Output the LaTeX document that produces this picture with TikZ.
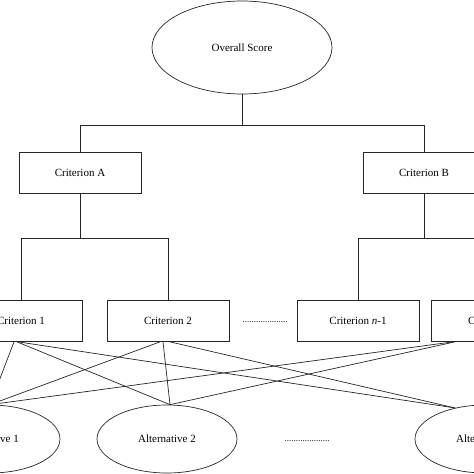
\documentclass[tikz,border=0pt]{standalone}
\usepackage{fontspec}
\setmainfont{Liberation Serif}
\usetikzlibrary{shapes.geometric}
\tikzset{
	crit/.style={draw, rectangle, minimum width=122pt, minimum height=41pt, inner sep=0pt},
	alt/.style={draw, ellipse, minimum width=140pt, minimum height=68pt, inner sep=0pt},
	link/.style={black!85, line width=0.7pt}
}
\begin{document}
\begin{tikzpicture}[x=1pt, y=-1pt, font=\fontsize{11}{13}\selectfont, line width=0.7pt, draw=black!85]
	\useasboundingbox (0,0) rectangle (474,474);
	\node[draw, ellipse, minimum width=180pt, minimum height=93pt, inner sep=0pt] (score) at (242,47.5) {Overall Score}; %top
	\node[crit] (critA) at (80,172.5) {Criterion A};
	\node[crit] (critB) at (424,172.5) {Criterion B};
	\node[crit] (crit1) at (21,321) {Criterion 1};
	\node[crit] (crit2) at (168,321) {Criterion 2};
	\node[crit] (critn1) at (358,321) {Criterion \textit{n}-1};
	\node[crit] (critn) at (492,321) {Criterion \textit{n}};
	\node (dotsC) at (265,322) {\fontsize{9}{9}\selectfont ....................};
	\node[alt] (alt1) at (-10,439) {Alternative 1};
	\node[alt] (alt2) at (167,439) {Alternative 2};
	\node[alt] (altn) at (485,439) {Alternative \textit{n}};
	\node (dotsA) at (307,441) {\fontsize{9}{9}\selectfont ....................};
	% tree
	\coordinate (split0) at (242,125);
	\coordinate (splitA) at (80,238);
	\coordinate (splitB) at (424,238);
	\draw (score) -- (split0);
	\draw (split0) -| (critA);
	\draw (split0) -| (critB);
	\draw (critA) -- (splitA);
	\draw (splitA) -| (crit1);
	\draw (splitA) -| (crit2);
	\draw (critB) -- (splitB);
	\draw (splitB) -| (critn1);
	\draw (splitB) -| (critn);
	% criteria to alternatives
	\draw[link] ([xshift=-7pt]crit1.south) -- (alt1.north);
	\draw[link] ([xshift=-4pt]crit1.south) -- ([xshift=3pt]alt2.north);
	\draw[link] ([xshift=-3pt]crit1.south) -- (altn.134);
	\draw[link] ([xshift=-8pt]crit2.south) -- (alt1.north);
	\draw[link] ([xshift=-5pt]crit2.south) -- ([xshift=3pt]alt2.north);
	\draw[link] ([xshift=2pt]crit2.south) -- (altn.134);
	\draw[link] ([xshift=-39pt]critn.south) -- (alt1.north);
	\draw[link] ([xshift=-37pt]critn.south) -- ([xshift=3pt]alt2.north);
	\draw[link] ([xshift=-7pt]critn.south) -- ([xshift=1pt]altn.north);
\end{tikzpicture}
\end{document}
